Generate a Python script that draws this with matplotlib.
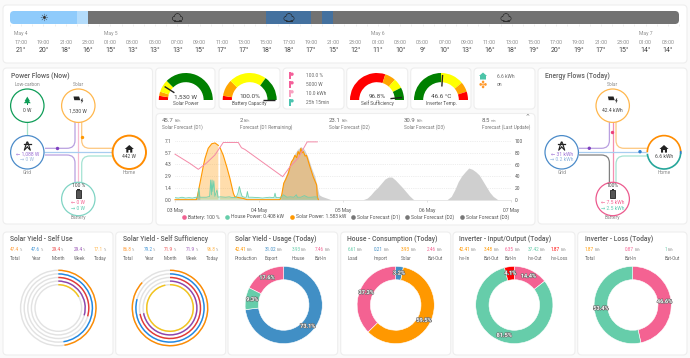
import numpy as np
import matplotlib
matplotlib.use("Agg")
import matplotlib.pyplot as plt
import matplotlib.patheffects as pe
from matplotlib.patches import FancyBboxPatch, Circle, Arc, PathPatch, Polygon, Rectangle
from matplotlib.path import Path

plt.rcParams['font.family'] = ['Roboto', 'DejaVu Sans']

W, H = 690, 358

# weather strip
weather_edges = [-1, 5, 6, 22, 26, 27, 28, 59]
weather_kinds = ['sunny', 'night', 'cloudy', 'rain', 'cloudy', 'rain', 'cloudy']
hour_labels = ['17:00', '19:00', '21:00', '23:00', '01:00', '03:00', '05:00', '07:00', '09:00', '11:00',
               '13:00', '15:00', '17:00', '19:00', '21:00', '23:00', '01:00', '03:00', '05:00', '07:00',
               '09:00', '11:00', '13:00', '15:00', '17:00', '19:00', '21:00', '23:00', '01:00', '03:00']
temps = [21, 20, 18, 16, 15, 13, 13, 13, 15, 17, 17, 18, 18, 17, 15, 12, 11, 10, 9, 10, 13, 16, 18, 19, 20, 19, 17, 15, 14, 14]
date_labels = ['May 4', 'May 5', 'May 6', 'May 7']
date_hours = [0, 8, 32, 56]

# gauges: segment shares, needle share
gauge_names = ['Solar Power', 'Battery Capacity', 'Self Sufficiency', 'Inverter Temp.']
gauge_values = ['1,530 W', '100.0%', '96.8%', '46.6 °C']
gauge_segments = [[0.05, 0.05, 0.15, 0.75], [0.05, 0.20, 0.45, 0.30], [0.60, 0.13, 0.12, 0.15], [0.50, 0.28, 0.12, 0.10]]
gauge_colors = [['#ff0000', '#ffa500', '#ffff00', '#008000'], ['#ff0000', '#ffa500', '#ffff00', '#008000'],
                ['#ff0000', '#ffa500', '#ffff00', '#008000'], ['#008000', '#ffff00', '#ffa500', '#ff0000']]
gauge_needle = [0.18, 1.0, 0.968, 0.52]

info_left = ['100.0 %', '5000 W', '10.0 kWh', '25h 15min']
info_right = ['6.6 kWh', 'on']

# main chart, hours since 03 May 00:00
solar_h = [0, 6.1, 6.4, 6.86, 7.6, 8.1, 8.57, 9.5, 10.5, 11.43, 12.4, 12.5, 12.8, 12.9, 13.8, 14.8, 15.7, 16.7, 17.1, 18.3, 19.5, 20.6,
           30, 30.5, 31.1, 31.7, 32.4, 32.9, 33.3, 33.8, 34.3, 34.8, 35.2, 35.6, 36, 36.3, 36.7, 37.2, 37.6, 38.6, 39.5, 40.5, 40.7, 41]
solar_kw = [0, 0, 0.4, 1.4, 3.0, 4.1, 5.0, 6.25, 6.8, 6.9, 6.6, np.nan, np.nan, 6.3, 5.4, 4.0, 2.6, 0.77, 0.37, 0.25, 0.16, 0,
            0, 0.55, 2.0, 2.5, 3.2, 4.0, 4.6, 4.9, 5.4, 5.1, 5.85, 5.5, 6.25, 5.7, 5.85, 5.3, 5.4, 4.0, 2.8, 1.8, 0.37, 0]
house_h = [0, 1, 2, 3, 4, 5, 6, 6.5, 6.8, 7.1, 8, 9, 9.9, 10.2, 10.4, 10.6, 10.8, 11.1, 11.4, 12, 12.3, 13, 14.5, 15.5, 16.5, 17.5, 18, 18.4, 18.8, 19.2, 19.8,
           20.4, 20.7, 21, 22, 24, 25, 27, 28.3, 28.6, 28.9, 30.5, 31, 32, 33, 34, 34.7, 35, 36, 37, 38, 39, 40, 40.7]
house_kw = [0.25, 0.2, 0.3, 0.2, 0.25, 0.2, 0.3, 0.25, 1.4, 0.3, 0.3, 0.3, 0.4, 2.4, 0.6, 2.4, 1.0, 2.3, 0.4, 1.2, 0.3, 0.35, 0.3, 0.35, 0.25, 0.3, 0.8, 1.6, 0.9, 0.4, 0.3,
            0.3, 1.0, 0.3, 0.3, 0.25, 0.2, 0.3, 0.25, 0.8, 0.25, 0.3, 0.6, 0.3, 0.35, 0.3, 0.6, 0.3, 0.3, 0.5, 0.3, 0.3, 0.35, 0.3]
battery_h = [0, 4.3, 6.67, 9.05, 11.4, 13.8, 18.1, 19, 20, 30.8, 32.9, 35.2, 37.8, 40.7]
battery_pct = [78, 62, 52, 63, 76.5, 98, 98, 89, 86, 39.4, 56.5, 71, 99, 99]
fc0_h = [6.2, 6.7, 7.0, 7.1]
fc0_kw = [0, 1.3, 1.0, 0]
fc1_h = [30.2, 30.5, 31, 32, 33, 34, 35, 36, 37, 38, 39, 40, 40.7, 41.2, 42, 43, 44, 44.6]
fc1_kw = [0, 1.0, 2.2, 3.3, 4.5, 5.4, 6.1, 6.45, 6.1, 5.2, 3.9, 2.8, 1.5, 0.6, 0.4, 0.25, 0.1, 0]
fc2_h = [53.8, 55, 56, 57, 58, 59, 60, 61, 62, 63, 64, 65, 66, 67, 68, 68.3]
fc2_kw = [0, 0.2, 0.6, 1.1, 1.5, 2.0, 2.5, 2.75, 2.75, 2.4, 1.95, 1.5, 1.0, 0.5, 0.1, 0]
fc3_h = [77.8, 79, 80, 81, 82, 83, 84, 85, 86, 87, 88, 89, 90, 91, 92, 92.3]
fc3_kw = [0, 0.4, 1.2, 2.2, 2.9, 3.4, 3.85, 3.7, 3.4, 3.0, 2.3, 1.6, 0.9, 0.4, 0.1, 0]
left_ticks = [0.0, 1.4, 2.9, 4.3, 5.7, 7.1]
right_ticks = [0, 20, 40, 60, 80, 100]
day_ticks = [0, 24, 48, 72, 96]
day_labels = ['03 May', '04 May', '05 May', '06 May', '07 May']

# bottom row
radial_names = ['Total', 'Year', 'Month', 'Week', 'Today']
radial_colors = ['#ff8c00', '#1e88e5', '#e53935', '#8e44ad', '#f5c518']
self_use = [47.4, 47.6, 29.4, 29.4, 17.1]
self_suff = [86.8, 79.2, 71.9, 71.9, 96.8]

ORANGE, BLUE, GREEN, PINK, RED = '#ff9800', '#418fc5', '#66cdaa', '#f46292', '#ff0000'
usage_vals = [73.1, 9.3, 17.6]
usage_cols = [BLUE, GREEN, PINK]
cons_vals = [3.2, 59.5, 37.3]
cons_cols = [BLUE, ORANGE, PINK]
inv_vals = [14.4, 81.5, 4.1]
inv_cols = [PINK, GREEN, RED]
loss_vals = [46.6, 53.4]
loss_cols = [PINK, GREEN]

fig = plt.figure(figsize=(W / 100, H / 100), dpi=100, facecolor='#fafafa')
bg = fig.add_axes([0, 0, 1, 1])
bg.set_xlim(0, W)
bg.set_ylim(H, 0)
bg.axis('off')
renderer = fig.canvas.get_renderer()


def px_axes(x0, y0, x1, y1, **kw):
    ax = fig.add_axes([x0 / W, 1 - y1 / H, (x1 - x0) / W, (y1 - y0) / H], **kw)
    ax.patch.set_visible(False)
    return ax


def card(x0, y0, x1, y1):
    bg.add_patch(FancyBboxPatch((x0, y0), x1 - x0, y1 - y0, boxstyle='round,pad=0,rounding_size=4',
                                fc='white', ec='#eeeeee', lw=0.8))


def txt(x, y, s, size=3.5, color='#666666', ha='center', **kw):
    return bg.text(x, y, s, fontsize=size, color=color, ha=ha, va='center', **kw)


for c in [(3, 5, 687, 63), (3, 68, 152.5, 224), (155.7, 68, 215, 109), (219, 68, 280, 109), (283, 68, 344, 109),
          (346.7, 68, 407.7, 109), (410.7, 68, 471, 109), (474, 68, 535, 109), (156, 113.5, 535, 225), (538, 68, 687, 224),
          (3, 232, 113, 355), (115.7, 232, 225.7, 355), (228, 232, 337.7, 355), (340.7, 232, 450.7, 355),
          (453, 232, 575, 355), (577.7, 232, 687, 355)]:
    card(*c)

# ---- weather strip
clip = FancyBboxPatch((10, 11), 669, 13, boxstyle='round,pad=0,rounding_size=4', fc='none', ec='none')
bg.add_patch(clip)
wx = px_axes(10, 11, 679, 24)
wx.set_xlim(-1, 59)
wx.set_ylim(0, 1)
kind_col = {'sunny': '#8fcbfb', 'night': '#b4dcfb', 'cloudy': '#727272', 'rain': '#44719f'}
for i, k in enumerate(weather_kinds):
    b = wx.barh(0.5, weather_edges[i + 1] - weather_edges[i], left=weather_edges[i], height=1, color=kind_col[k])
    b[0].set_clip_path(clip)
for s in wx.spines.values():
    s.set_visible(False)
wx.set_yticks([])
wx.set_xticks(range(-1, 60))
wx.set_xticklabels([])
wx.tick_params(axis='x', length=1.2, width=0.4, color='#e2e2e2')


def wx_y(py):
    return 1 - (py - 11) / 13


for i, (h, t) in enumerate(zip(hour_labels, temps)):
    wx.text(i * 2, wx_y(42.2), h, transform=wx.get_xaxis_transform(), fontsize=3.9, color='#8f8f8f', ha='center', va='center')
    wx.text(i * 2, wx_y(50.3), f'{t}°', transform=wx.get_xaxis_transform(), fontsize=5, color='#444444', ha='center', va='center')
for d, h in zip(date_labels, date_hours):
    wx.text(h, wx_y(33.8), d, transform=wx.get_xaxis_transform(), fontsize=3.6, color='#8f8f8f', ha='center', va='center')

wx.set_zorder(1)
over = px_axes(0, 0, W, H)
over.set_xlim(0, W)
over.set_ylim(H, 0)
over.axis('off')
over.set_zorder(3)
over.text(43.5, 17.5, '☀', fontsize=7, color='#333333', ha='center', va='center', family='DejaVu Sans')


def over_cloud(x, y, fill):
    for dx, dy, r in [(-3, 1, 2), (0, -0.8, 3), (3, 1, 2)]:
        over.add_patch(Circle((x + dx, y + dy), r, fc=fill, ec='#222222', lw=0.6))
    for dx, dy, r in [(-3, 1, 1.7), (0, -0.8, 2.7), (3, 1, 1.7)]:
        over.add_patch(Circle((x + dx, y + dy), r, fc=fill, ec='none'))
    over.add_patch(Rectangle((x - 3.2, y + 0.2), 6.4, 2.6, fc=fill, ec='none'))
    over.plot([x - 3.2, x + 3.2], [y + 3, y + 3], color='#222222', lw=0.6)


over_cloud(177.5, 17.5, '#727272')
over_cloud(289, 17.5, '#44719f')
over_cloud(506, 17.5, '#727272')


# ---- flow diagrams
def elbow(p0, corner, p1, color, r=8):
    p0, corner, p1 = np.array(p0, float), np.array(corner, float), np.array(p1, float)
    a = corner + (p0 - corner) / np.linalg.norm(p0 - corner) * r
    b = corner + (p1 - corner) / np.linalg.norm(p1 - corner) * r
    path = Path([p0, a, corner, b, p1], [Path.MOVETO, Path.LINETO, Path.CURVE3, Path.CURVE3, Path.LINETO])
    bg.add_patch(PathPatch(path, fc='none', ec=color, lw=0.9))


def straight(p0, p1, color):
    bg.plot([p0[0], p1[0]], [p0[1], p1[1]], color=color, lw=0.9, solid_capstyle='butt')


def node(x, y, color, lw=0.9):
    bg.add_patch(Circle((x, y), 16.7, fc='white', ec=color, lw=lw, zorder=5))


def ntext(x, y, s, color='#444444', size=3.6):
    bg.text(x, y, s, fontsize=size, color=color, ha='center', va='center', zorder=6)


def i_tree(x, y):
    for dy, w in [(0, 2.6), (2.2, 3.5)]:
        bg.add_patch(Polygon([(x - w, y + dy + 1), (x + w, y + dy + 1), (x, y + dy - 3.4)], fc='#0f9d58', ec='none', zorder=6))
    bg.add_patch(Rectangle((x - 0.6, y + 3), 1.2, 1.6, fc='#0f9d58', ec='none', zorder=6))


def i_solar(x, y):
    bg.add_patch(Polygon([(x - 4.8, y - 3.5), (x + 0.8, y - 3.5), (x + 2, y + 0.2), (x - 4, y + 0.2)], fc='#222222', ec='none', zorder=6))
    bg.add_patch(Polygon([(x + 3.6, y - 1.5), (x + 2.4, y + 1.2), (x + 3.6, y + 1.2), (x + 3, y + 3.8), (x + 5, y + 0.4), (x + 3.8, y + 0.4), (x + 4.6, y - 1.5)],
                         fc='#222222', ec='none', zorder=6))


def i_tower(x, y):
    bg.add_patch(Circle((x, y - 3.4), 1.2, fc='#222222', ec='none', zorder=6))
    bg.plot([x - 3.4, x + 3.4], [y - 1.6, y - 1.6], color='#222222', lw=0.9, zorder=6)
    bg.plot([x - 1, x - 3, x], [y - 2.4, y + 4.2, y + 1], color='#222222', lw=0.8, zorder=6)
    bg.plot([x + 1, x + 3, x], [y - 2.4, y + 4.2, y + 1], color='#222222', lw=0.8, zorder=6)


def i_home(x, y):
    bg.add_patch(Polygon([(x, y - 4), (x + 4.5, y), (x + 3, y), (x + 3, y + 3.6), (x + 0.9, y + 3.6), (x + 0.9, y + 1), (x - 0.9, y + 1),
                          (x - 0.9, y + 3.6), (x - 3, y + 3.6), (x - 3, y), (x - 4.5, y)], fc='#222222', ec='none', zorder=6))


def i_batt(x, y):
    bg.add_patch(Rectangle((x - 2.6, y - 3.8), 5.2, 8, fc='#555555', ec='#222222', lw=0.6, zorder=6))
    bg.add_patch(Rectangle((x - 1.2, y - 4.8), 2.4, 1, fc='#222222', ec='none', zorder=6))


LP, LO, LK, LB, LT = '#b9a0e0', '#fdc77e', '#f8bbd0', '#a8cdf0', '#a5e3d3'
txt(10.7, 75.7, 'Power Flows (Now)', size=4.9, color='#5f5f5f', ha='left', fontweight='medium')
for s, x, y in [('Low-carbon', 27.3, 85), ('Solar', 78.3, 85), ('Grid', 27.3, 172.3), ('Home', 129.3, 172.3), ('Battery', 78.3, 218)]:
    txt(x, y, s, size=3.5, color='#888888')

straight((27.3, 120), (27.3, 137), '#a5e3c8')
elbow((75, 120), (75, 148.3), (45, 148.3), LP)
elbow((81.7, 120), (81.7, 148.3), (113, 148.3), LO)
elbow((45, 155), (75, 155), (75, 184), LP)
elbow((81.7, 184), (81.7, 156), (113, 156), LT)
straight((78.3, 120), (78.3, 184), LK)
straight((44, 151.7), (113, 151.7), LB)
bg.scatter([56.7], [148.3], s=6, color='#7e3fc0', zorder=4, lw=0)
bg.scatter([82.3], [136.7], s=6, color='#ff9800', zorder=4, lw=0)
node(27.3, 105.7, '#0f9d58')
node(78.3, 105.7, '#ffb74d')
node(27.3, 152.3, '#4b8bc9')
node(129.3, 152.3, '#ff8c00', lw=1.4)
node(78.3, 199, '#80d4c4')
i_tree(27.3, 100)
i_solar(78.3, 100)
i_tower(27.3, 146)
i_home(129.3, 149)
i_batt(78.3, 194)
ntext(27.3, 111, '0 W')
ntext(78.3, 111, '1,530 W')
ntext(27.3, 154.4, '← 1,088 W', color='#9b6fd4')
ntext(27.3, 159.8, '→ 0 W', color='#9fb9dc')
ntext(129.3, 156.7, '442 W')
ntext(78.3, 185.7, '100 %')
ntext(78.3, 202.7, '← 0 W', color=PINK)
ntext(78.3, 208.2, '→ 0 W', color='#5ccbb0')

txt(545, 75.7, 'Energy Flows (Today)', size=4.9, color='#5f5f5f', ha='left', fontweight='medium')
for s, x, y in [('Solar', 612.7, 85), ('Grid', 561.7, 172.3), ('Home', 664, 172.3), ('Battery', 612.7, 218)]:
    txt(x, y, s, size=3.5, color='#888888')
elbow((609.4, 120), (609.4, 148.3), (579, 148.3), LP)
elbow((616, 120), (616, 148.3), (647, 148.3), LO)
elbow((579, 155), (609.4, 155), (609.4, 184), '#808080')
elbow((616, 184), (616, 156), (647, 156), LT)
straight((612.7, 120), (612.7, 184), '#f48fb1')
straight((578, 151.7), (647, 151.7), LB)
bg.scatter([589.3, 640], [148.3, 151.7], s=6, color=['#7e3fc0', '#2f7fd0'], zorder=4, lw=0)
bg.scatter([612.3], [131.7], s=6, color='#ec407a', zorder=4, lw=0)
node(612.7, 105.7, '#ffb74d')
node(561.7, 152.3, '#4b8bc9')
node(664, 152.3, 'white')
bg.add_patch(Arc((664, 152.3), 33.4, 33.4, theta1=180, theta2=360, color='#ff8c00', lw=1.2, zorder=6))
bg.add_patch(Arc((664, 152.3), 33.4, 33.4, theta1=0, theta2=175, color='#26a69a', lw=1.2, zorder=6))
bg.add_patch(Arc((664, 152.3), 33.4, 33.4, theta1=355, theta2=365, color='#2f7fd0', lw=1.2, zorder=7))
node(612.7, 199, '#ec5a8e')
i_solar(612.7, 100)
i_tower(561.7, 146)
i_home(664, 149)
i_batt(612.7, 194)
ntext(612.7, 111, '42.4 kWh')
ntext(561.7, 154.4, '← 31 kWh', color='#9b6fd4')
ntext(561.7, 159.8, '→ 0.2 kWh', color='#8fb3dc')
ntext(664, 156.7, '6.6 kWh')
ntext(612.7, 185.7, '100%')
ntext(612.7, 202.7, '← 7.5 kWh', color=PINK)
ntext(612.7, 208.2, '→ 2.5 kWh', color='#5ccbb0')

# ---- gauges
for cx, name, val, segs, cols, f in zip([185.8, 249.7, 377, 441], gauge_names, gauge_values, gauge_segments, gauge_colors, gauge_needle):
    ax = px_axes(cx - 27, 73, cx + 27, 127)
    ax.pie(segs + [1], colors=cols + ['none'], startangle=180, counterclock=False, radius=1, wedgeprops={'width': 0.34})
    ax.set_xlim(-1, 1)
    ax.set_ylim(-1, 1)
    a = np.pi * (1 - f)
    ax.plot([0.5 * np.cos(a), 0.93 * np.cos(a)], [0.5 * np.sin(a), 0.93 * np.sin(a)], color='#222222', lw=1.0, solid_capstyle='butt', clip_on=False)
    over.text(cx, 96.7, val, fontsize=4.6, color='#444444', ha='center', va='center')
    over.text(cx, 103.3, name, fontsize=3.4, color='#555555', ha='center', va='center')

# ---- info cards
for y, s in zip([75.7, 84.3, 93.3, 102.3], info_left):
    txt(305.7, y, s, size=3.5, color='#666666', ha='left')
for y, c in zip([75.7, 84.3, 93.3, 102.3], ['#f4609a', '#f4609a', '#f8a0c0', '#4cc4b0']):
    bg.add_patch(Rectangle((288.5, y - 3.5), 2.8, 7, fc=c, ec='none'))
    bg.add_patch(Circle((292, y - 1.5), 1.7, fc=c, ec='none'))
for y, s in zip([76, 85], info_right):
    txt(497, y, s, size=3.5, color='#666666', ha='left')
bg.add_patch(Polygon([(483, 72.5), (487, 76), (486, 76), (486, 79.5), (480, 79.5), (480, 76), (479, 76)], fc='#4cc4a8', ec='none'))
bg.text(483, 85, '✤', fontsize=7, color='#ff9a2e', ha='center', va='center', family='DejaVu Sans')

# ---- main chart
for x, big, unit, small in [(162, '45.7', 'kWh', 'Solar Forecast (D1)'), (240, '2', 'kWh', 'Forecast (D1 Remaining)'),
                            (329, '23.1', 'kWh', 'Solar Forecast (D2)'), (404, '30.9', 'kWh', 'Solar Forecast (D3)'),
                            (481.7, '8.5', 'min', 'Forecast (Last Update)')]:
    t = txt(x, 120, big, size=4.3, color='#666666', ha='left')
    bb = t.get_window_extent(renderer)
    txt(bb.x1 + 0.6, 120.6, unit, size=2.3, color='#888888', ha='left')
    txt(x, 127, small, size=3.4, color='#777777', ha='left')
txt(528, 116.5, '⌃', size=5, color='#777777')

ch = px_axes(175, 141.3, 510.7, 199.7)
ch.set_xlim(0, 96)
ch.set_ylim(0, 7.1)
for h, k in [(fc0_h, fc0_kw), (fc1_h, fc1_kw), (fc2_h, fc2_kw), (fc3_h, fc3_kw)]:
    ch.fill_between(h, k, color='#cfcfcf', lw=0)
ch.fill_between(solar_h, solar_kw, color='#ffa726', alpha=0.38, lw=0)
ch.fill_between(house_h, house_kw, color='#66cdaa', alpha=0.3, lw=0)
ch.plot(solar_h, solar_kw, color='#ff9800', lw=0.8, clip_on=False)
ch.plot(house_h, house_kw, color='#6fd0ac', lw=0.6)
ch.set_yticks(left_ticks)
ch.set_yticklabels(['0.0', '1.4', '2.9', '4.3', '5.7', '7.1'])
ch.set_xticks(day_ticks)
ch.set_xticklabels(day_labels)
ch.tick_params(axis='y', length=0, labelsize=3.5, labelcolor='#555555', pad=2.8)
ch.tick_params(axis='x', length=1.5, width=0.4, color='#cccccc', labelsize=3.6, labelcolor='#555555', pad=4.5)
ch.grid(axis='y', color='#dddddd', lw=0.5, ls=':')
ch.set_axisbelow(True)
for s in ch.spines.values():
    s.set_visible(False)
ch.spines['bottom'].set_visible(True)
ch.spines['bottom'].set_color('#dddddd')
ch.spines['bottom'].set_linewidth(0.5)
ch2 = ch.twinx()
ch2.patch.set_visible(False)
ch2.set_ylim(0, 100)
ch2.plot(battery_h, battery_pct, color='#f48aa8', lw=0.7, clip_on=False)
ch2.set_yticks(right_ticks)
ch2.tick_params(axis='y', length=0, labelsize=3.5, labelcolor='#555555', pad=2.8)
for s in ch2.spines.values():
    s.set_visible(False)

for dx, col, s in [(184, '#f06292', 'Battery: 100 %'), (227, '#66cdaa', 'House Power: 0.408 kW'), (291.7, '#ff9800', 'Solar Power: 1.583 kW'),
                   (353, '#777777', 'Solar Forecast (D1)'), (407, '#777777', 'Solar Forecast (D2)'), (461.7, '#777777', 'Solar Forecast (D3)')]:
    bg.scatter([dx], [217], s=11, color=col, lw=0, zorder=4)
    txt(dx + 4, 217, s, size=3.6, color='#555555', ha='left')


# ---- bottom row
def stat(x, val, unit, name, color):
    t = txt(x, 249.7, val, size=3.3, color=color, ha='left')
    bb = t.get_window_extent(renderer)
    txt(bb.x1 + 0.4, 250, unit, size=2.2, color='#999999', ha='left')
    txt(x, 258.3, name, size=3.3, color='#666666', ha='left')


def radial(cx, cy, vals):
    ax = px_axes(cx - 39.5, cy - 39.5, cx + 39.5, cy + 39.5, projection='polar')
    ax.set_theta_zero_location('N')
    ax.set_theta_direction(-1)
    levels = [4, 3, 2, 1, 0]
    for lv, v, c in zip(levels, vals, radial_colors):
        ax.barh(lv, 2 * np.pi, left=0, height=0.4, color='#e2e2e2', lw=0)
        ax.barh(lv, v / 100 * 2 * np.pi, left=0, height=0.4, color=c, lw=0)
    ax.set_ylim(-6.47, 4.5)
    ax.axis('off')


def donut(cx, cy, vals, cols):
    ax = px_axes(cx - 38.6, cy - 38.6, cx + 38.6, cy + 38.6)
    w, t, a = ax.pie(vals, colors=cols, startangle=90, counterclock=False, radius=1, autopct='%.1f%%', pctdistance=0.83,
                     wedgeprops={'width': 0.345, 'lw': 0.4, 'ec': 'white'})
    for s in a:
        s.set_fontsize(4)
        s.set_color('white')
        s.set_fontweight('bold')
        s.set_path_effects([pe.withStroke(linewidth=0.8, foreground='#666666')])
    ax.set_xlim(-1, 1)
    ax.set_ylim(-1, 1)


for x, s in [(10.3, 'Solar Yield - Self Use'), (122.7, 'Solar Yield - Self Sufficiency'), (235, 'Solar Yield - Usage (Today)'),
             (347.3, 'House - Consumption (Today)'), (459, 'Inverter - Input/Output (Today)'), (585, 'Inverter - Loss (Today)')]:
    txt(x, 239, s, size=4.9, color='#5f5f5f', ha='left', fontweight='medium')

for x, n, v, c in zip([10.3, 31.3, 51.7, 73.7, 94], radial_names, self_use, ['#ffa040', '#4a9ad8', '#ee5050', '#9b59b6', '#ffb74d']):
    stat(x, f'{v}', '%', n, c)
for x, n, v, c in zip([122.7, 143.7, 164, 186, 206.3], radial_names, self_suff, ['#ffa040', '#4a9ad8', '#ee5050', '#9b59b6', '#ffb74d']):
    stat(x, f'{v}', '%', n, c)
for x, v, n, c in zip([235, 265, 291.7, 315], ['42.41', '31.02', '3.93', '7.46'], ['Production', 'Export', 'House', 'Bat-In'], [ORANGE, BLUE, GREEN, PINK]):
    stat(x, v, 'kWh', n, c)
for x, v, n, c in zip([347.3, 374, 401, 427.3], ['6.61', '0.21', '3.93', '2.46'], ['Load', 'Import', 'Solar', 'Bat-Out'], [GREEN, BLUE, ORANGE, PINK]):
    stat(x, v, 'kWh', n, c)
for x, v, n, c in zip([459, 484, 505, 527.3, 551], ['42.41', '3.48', '6.35', '37.42', '1.87'], ['Inv-In', 'Bat-Out', 'Bat-In', 'Inv-Out', 'Inv-Loss'], [ORANGE, ORANGE, PINK, GREEN, RED]):
    stat(x, v, 'kWh', n, c)
for x, v, n, c in zip([585, 625, 665], ['1.87', '0.87', '1'], ['Total', 'Bat-In', 'Bat-Out'], [ORANGE, PINK, GREEN]):
    stat(x, v, 'kWh', n, c)

radial(58.3, 308, self_use)
radial(170, 308, self_suff)
donut(283.7, 305, usage_vals, usage_cols)
donut(395.7, 305, cons_vals, cons_cols)
donut(514.3, 305, inv_vals, inv_cols)
donut(632.7, 305, loss_vals, loss_cols)

fig.savefig('out.png', dpi=100, facecolor=fig.get_facecolor())
